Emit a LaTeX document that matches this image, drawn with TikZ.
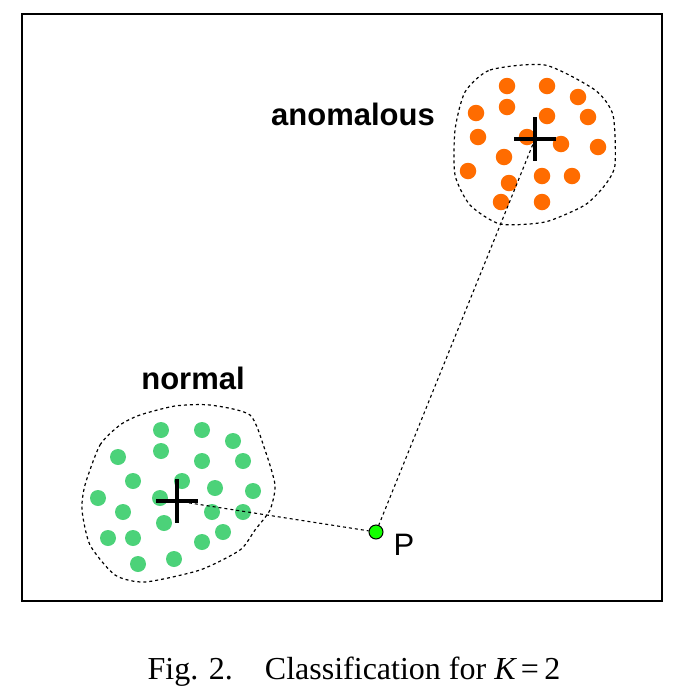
\documentclass[tikz,border=0pt]{standalone}
\usepackage{fontspec}
\setmainfont{Liberation Serif}
\newfontfamily\arialf{Liberation Sans}
\begin{document}
\begin{tikzpicture}[x=1pt,y=-1pt,
  odot/.style={circle,fill=orange!85!red,inner sep=0pt,minimum size=16.5pt},
  gdot/.style={circle,fill=green!50!teal!70,inner sep=0pt,minimum size=16pt},
  blob/.style={dashed,line width=1.2pt},
  link/.style={dashed,line width=1.1pt},
  lbl/.style={font=\arialf\bfseries\fontsize{31}{36}\selectfont}]
\useasboundingbox (0,0) rectangle (678,689);
\draw[line width=1.1pt] (22,14) rectangle (662,601);
\draw[blob] plot[smooth cycle,tension=0.4] coordinates{(465,92)(490,70)(545,65)(595,90)(613,115)(615,165)(605,185)(585,205)(545,222)(500,224)(470,205)(455,175)(455,130)};
\draw[blob] plot[smooth cycle,tension=0.4] coordinates{(85,485)(100,445)(120,425)(140,415)(175,406)(210,405)(250,415)(265,450)(275,485)(270,510)(255,530)(240,550)(200,570)(145,582)(115,575)(90,545)(82,510)};
\foreach \p [count=\i] in {(507,86),(547,86),(578,97),(476,113),(507,107),(547,116),(588,117),(478,137),(527,137),(561,144),(598,147),(504,157),(468,171),(509,183),(542,176),(572,176),(501,202),(542,202)}
  \node[odot] (o\i) at \p {};
\foreach \p [count=\i] in {(161,430),(202,430),(233,441),(118,457),(161,451),(202,461),(243,461),(133,481),(182,481),(215,488),(253,491),(98,498),(160,498),(123,512),(212,512),(243,512),(164,523),(108,538),(133,538),(223,532),(202,542),(138,564),(174,559)}
  \node[gdot] (g\i) at \p {};
\coordinate (ca) at (535,139);
\coordinate (cn) at (177,501);
\node[circle,draw,line width=1pt,fill=green!90!lime,inner sep=0pt,minimum size=14pt] (P) at (376,532) {};
\draw[link] (ca) -- (P);
\draw[link] (cn) -- (P);
\draw[line width=3.5pt] (514,139) -- (556,139) (535,117) -- (535,161);
\draw[line width=3.5pt] (156,501) -- (198,501) (177,479) -- (177,523);
\node[lbl] (an) at (353,114) {anomalous};
\node[lbl] (no) at (193,378) {normal};
\node[font=\arialf\fontsize{31}{36}\selectfont] (pl) at (404,545) {P};
\node[font=\fontsize{32}{38}\selectfont] (cap) at (354,672) {Fig. 2.\quad Classification for {\itshape K}\,=\,2};
\end{tikzpicture}
\end{document}
